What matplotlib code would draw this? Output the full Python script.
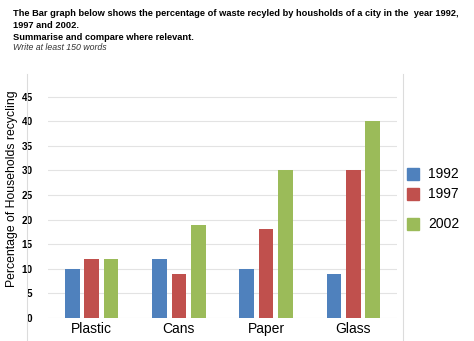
import numpy as np
import matplotlib
matplotlib.use("Agg")
import matplotlib.pyplot as plt
from matplotlib.lines import Line2D
from matplotlib.patches import Rectangle

# Data
categories = ["Plastic", "Cans", "Paper", "Glass"]
years = ["1992", "1997", "2002"]
values_1992 = [10, 12, 10, 9]
values_1997 = [12, 9, 18, 30]
values_2002 = [12, 19, 30, 40]
yticks = [0, 5, 10, 15, 20, 25, 30, 35, 40, 45]

colors = ["#4F81BD", "#C0504D", "#9BBB59"]
plt.rcParams['font.family'] = ['Liberation Sans', 'DejaVu Sans']

W, H = 474, 341
fig = plt.figure(figsize=(W / 100, H / 100), dpi=100)
ax = fig.add_axes([48 / W, 1 - 318 / H, (397 - 48) / W, (318 - 74) / H])

x = np.arange(len(categories))
width = 0.168
offsets = [-0.222, 0, 0.222]
for vals, off, c in zip([values_1992, values_1997, values_2002], offsets, colors):
    ax.bar(x + off, vals, width, color=c, zorder=3)

ax.set_xlim(-0.5, len(categories) - 0.5)
ax.set_ylim(0, 49.6)
ax.set_yticks(yticks)
ax.set_yticklabels([str(t) for t in yticks], fontsize=7.2, fontweight='bold')
ax.set_xticks(x)
ax.set_xticklabels(categories, fontsize=10)
ax.tick_params(axis='y', length=0, pad=11)
ax.tick_params(axis='x', length=0, pad=3)
ax.grid(axis='y', color='#e3e3e3', linewidth=0.8, zorder=0)
for s in ax.spines.values():
    s.set_visible(False)

fig.text(12 / W, 1 - 189 / H, "Percentage of Households recycling", fontsize=8.8,
         rotation=90, ha='center', va='center')

# chart frame lines
for xp in [27, 403]:
    fig.add_artist(Line2D([xp / W, xp / W], [0, 1 - 74 / H], color='#dcdcdc', linewidth=0.8))

# legend drawn by hand (uneven spacing as in the original)
leg_y = [174, 194, 224]
for yr, c, yy in zip(years, colors, leg_y):
    fig.add_artist(Rectangle((407 / W, 1 - (yy + 6) / H), 12 / W, 12 / H,
                             transform=fig.transFigure, color=c))
    fig.text(428 / W, 1 - yy / H, yr, fontsize=10, va='center', ha='left')

# heading text
fig.text(13 / W, 1 - 13 / H,
         "The Bar graph below shows the percentage of waste recyled by housholds of a city in the  year 1992,",
         fontsize=6.65, fontweight='bold', va='center')
fig.text(13 / W, 1 - 25 / H, "1997 and 2002.", fontsize=6.65, fontweight='bold', va='center')
fig.text(13 / W, 1 - 37 / H, "Summarise and compare where relevant.", fontsize=6.65,
         fontweight='bold', va='center')
fig.text(13 / W, 1 - 48 / H, "Write at least 150 words", fontsize=6.3, style='italic',
         color='#333333', va='center')

fig.savefig("out.png", dpi=100)
